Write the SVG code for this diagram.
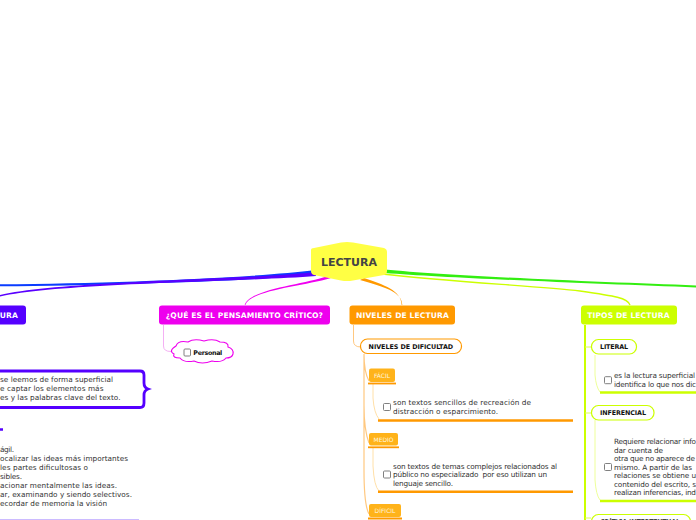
<svg xmlns="http://www.w3.org/2000/svg" width="696" height="520" viewBox="0 0 696 520">
<style>
text{font-family:"DejaVu Sans",Verdana,sans-serif;font-size:7.3px;fill:#333}
.t{font-weight:bold;fill:#fff;font-size:7.6px;letter-spacing:.1px}
.s{font-weight:bold;fill:#111;font-size:6.4px}
.m{fill:#fff6dd;font-size:6px}
.c{fill:#fff;stroke:#808080;stroke-width:1}
path{fill:none}
</style>
<rect width="696" height="520" fill="#fff"/>
<g id="connectors">
<path d="M316 270C250 278 120 283 0 284.300L0 286.300C120 285 250 281 316 274.500Z" style="fill:#0a3cff"/>
<path d="M316 272C240 280 60 281 0 295L0 296.500C60 283 240 282 316 276Z" style="fill:#5a00ff"/>
<path d="M328 276C302 285 250 289 244.700 305L245.300 305C251 290 302 286.500 331 278Z" style="fill:#f000f0"/>
<path d="M364 278C384 285 401 290 401.700 305L402.300 305C402 291.500 384 287 360 280Z" style="fill:#ff9900"/>
<path d="M385 269.500C450 276 600 282 696 285.500L696 287.500C600 284 450 278 385 273Z" style="fill:#33ee11"/>
<path d="M382 274C450 282 540 286 580 291C615 296 628 298 630 305" stroke="#ccff00" stroke-width="1.300"/>
<path d="M163.500 325V346Q163.500 351.500 171 351.500" stroke="#f4b0f4"/>
<path d="M353.500 325V341Q353.500 347 361 347" stroke="#ffc880"/>
<path d="M364 354Q364 372 369 381M364 354V405Q364 430 369 443M364 354V470Q364 505 369 514" stroke="#ffc880" stroke-width="1.200"/>
<path d="M373 384V398Q374 413 379 419M373 448V466Q374 486 379 491" stroke="#ffe0a8"/>
<path d="M585 325V520" stroke="#ccff00" stroke-width="2"/>
<path d="M585 347H591M585 413H591M585 518H591" stroke="#ddff55"/>
<path d="M595 355V375Q596 387 600 392M595 420V480Q596 495 600 500" stroke="#eeff99"/>
</g>
<g id="n-lectura"><path d="M311 250Q311 248 314 248L341 242.500Q347 241.500 353 242.500L384 248Q387 249 387 252V271Q387 274 384 275L353 280.500Q347 281.500 341 280.500L314 275Q311 274 311 271Z" style="fill:#ffff44"/><text x="349" y="265.500" text-anchor="middle" style="font-size:11px;font-weight:bold;fill:#444">LECTURA</text></g>
<g id="n-estrategias"><rect x="-40" y="305.500" width="66" height="19" rx="3" fill="#5500ff"/><text class="t" x="18" y="318" text-anchor="end">TURA</text></g>
<g id="n-superficial"><path d="M-10 371H140Q144 371 144 375V383Q144 387.500 148 389Q144 390.500 144 395V403Q144 407.500 140 407.500H-10" stroke="#5500ff" stroke-width="2.800"/><text x="0" y="382" textLength="113">se leemos de forma superficial</text><text x="0" y="391" textLength="103.500">e captar los elementos más</text><text x="0" y="400" textLength="120.500">es y las palabras clave del texto.</text></g>
<g id="n-agil"><path d="M0 429.500H3" stroke="#5500ff" stroke-width="2.500"/><text x="0" y="452" textLength="14">ágil.</text><text x="0" y="461" textLength="128">ocalizar las ideas más importantes</text><text x="0" y="470" textLength="88">les partes dificultosas o</text><text x="0" y="479" textLength="22">sibles.</text><text x="0" y="488" textLength="117">acionar mentalmente las ideas.</text><text x="0" y="497" textLength="132">ar, examinando y siendo selectivos.</text><text x="0" y="506" textLength="107">ecordar de memoria la visión</text><path d="M0 519.500H139" stroke="#ccbbff" stroke-width="1"/></g>
<g id="n-pensamiento"><rect x="159" y="305.500" width="171" height="19" rx="3" fill="#ee00ee"/><text class="t" x="244.500" y="318" text-anchor="middle">¿QUÉ ES EL PENSAMIENTO CRÍTICO?</text></g>
<g id="n-personal"><path d="M176 346Q178 340 188 342Q194 338 204 341Q214 338 220 342Q229 342 228 347Q234 349 233 354Q232 358 226 358Q222 363 212 361Q202 365 194 361Q184 363 180 358Q172 358 174 354Q168 351 176 346Z" stroke="#ee00ee" stroke-width="1.100" style="fill:#fff"/><rect class="c" x="184" y="349" width="6.500" height="7" rx="1"/><text class="s" x="193.300" y="355" textLength="29">Personal</text></g>
<g id="n-niveles"><rect x="349.500" y="305.500" width="105.500" height="19" rx="3" fill="#ff9900"/><text class="t" x="402.500" y="318" text-anchor="middle">NIVELES DE LECTURA</text></g>
<g id="n-dificultad"><rect x="360.500" y="339" width="101" height="14.500" rx="7" fill="#fff" stroke="#ff9900" stroke-width="1.200"/><text class="s" x="368.600" y="349" textLength="84.500">NIVELES DE DIFICULTAD</text></g>
<g id="n-facil"><rect x="369" y="368.500" width="26" height="13.500" rx="2" fill="#ffb31a"/><path d="M368 383.500H396" stroke="#ff9900" stroke-width="1.800"/><text class="m" x="382" y="377.500" text-anchor="middle">FÁCIL</text></g>
<g id="n-facil-t"><rect class="c" x="383.500" y="403.500" width="7" height="7" rx="1"/><text x="393" y="405" textLength="138">son textos sencillos de recreación de</text><text x="393" y="414" textLength="105">distracción o esparcimiento.</text><path d="M378 420.500H573" stroke="#ff9900" stroke-width="2.400"/></g>
<g id="n-medio"><rect x="369" y="433" width="29" height="12.500" rx="2" fill="#ffb31a"/><path d="M368 447.300H399" stroke="#ff9900" stroke-width="1.800"/><text class="m" x="383.500" y="441.500" text-anchor="middle">MEDIO</text></g>
<g id="n-medio-t"><rect class="c" x="383.500" y="471" width="7" height="7" rx="1"/><text x="393" y="469" textLength="164">son textos de temas complejos relacionados al</text><text x="393" y="477" textLength="154" xml:space="preserve">público no especializado  por eso utilizan un</text><text x="393" y="486" textLength="60">lenguaje sencillo.</text><path d="M378 491.700H573" stroke="#ff9900" stroke-width="2.400"/></g>
<g id="n-dificil"><rect x="369" y="504" width="32" height="13" rx="2" fill="#ffb31a"/><path d="M368 518.500H402" stroke="#ff9900" stroke-width="1.800"/><text class="m" x="385" y="513" text-anchor="middle">DÍFICIL</text></g>
<g id="n-tipos"><rect x="581" y="305.500" width="96" height="19" rx="3" fill="#ccff00"/><text class="t" x="628.500" y="318" text-anchor="middle">TIPOS DE LECTURA</text></g>
<g id="n-literal"><rect x="591.500" y="339.500" width="45" height="14.500" rx="7" fill="#fff" stroke="#ccff00" stroke-width="1.200"/><text class="s" x="600" y="349" textLength="28">LITERAL</text></g>
<g id="n-literal-t"><rect class="c" x="604.500" y="376.700" width="7" height="7" rx="1"/><text x="614" y="378" textLength="81">es la lectura superficial</text><text x="614" y="387" textLength="82">identifica lo que nos dic</text><path d="M600 392.500H696" stroke="#ccff00" stroke-width="2.400"/></g>
<g id="n-inferencial"><rect x="591.500" y="405.500" width="62.500" height="14.500" rx="7" fill="#fff" stroke="#ccff00" stroke-width="1.200"/><text class="s" x="600" y="415" textLength="46">INFERENCIAL</text></g>
<g id="n-inferencial-t"><rect class="c" x="604.500" y="463.500" width="7" height="7" rx="1"/><text x="614" y="444" textLength="82">Requiere relacionar info</text><text x="614" y="453" textLength="49">dar cuenta de</text><text x="614" y="461" textLength="81">otra que no aparece de</text><text x="614" y="470" textLength="78">mismo. A partir de las</text><text x="614" y="478" textLength="82">relaciones se obtiene u</text><text x="614" y="487" textLength="82">contenido del escrito, s</text><text x="614" y="495" textLength="82">realizan inferencias, ind</text><path d="M600 501H696" stroke="#ccff00" stroke-width="2.400"/></g>
<g id="n-critica"><rect x="591.500" y="514.500" width="99" height="14.500" rx="7" fill="#fff" stroke="#ccff00" stroke-width="1.200"/><text class="s" x="600" y="523.500" textLength="80">CRÍTICA INTERTEXTUAL</text></g>
</svg>
